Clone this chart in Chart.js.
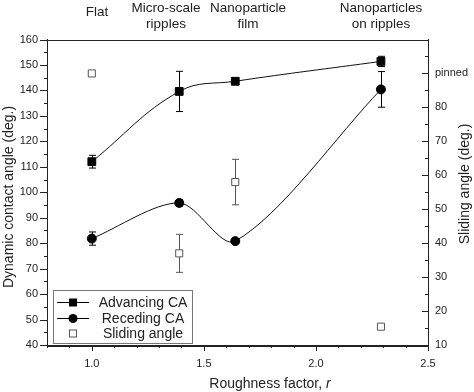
<!DOCTYPE html>
<html>
<head>
<meta charset="utf-8">
<script src="https://cdn.jsdelivr.net/npm/chart.js@4"></script>
<style>
  html, body { margin: 0; padding: 0; background: #fff; }
</style>
</head>
<body>
<canvas id="chart" width="474" height="392"></canvas>
<script>
// values
const roughness = [1.0, 1.39, 1.64, 2.29];
const advancing = [112, 139.6, 143.6, 151.4];
const advancingErr = [2.5, 7.9, 1, 2];
const receding = [81.8, 95.8, 80.8, 140.4];
const recedingErr = [2.6, 1.3, 1, 7];
const sliding = [90, 37, 58, 15.4];       // 90 = "pinned"
const slidingErr = [0, 5.6, 6.7, 0];
const surfaces = [["Flat"], ["Micro-scale", "ripples"], ["Nanoparticle", "film"], ["Nanoparticles", "on ripples"]];
const legendLabels = ["Advancing CA", "Receding CA", "Sliding angle"];

const FONT = "'Liberation Sans', Arial, sans-serif";
const INK = "#222";

const pts = (ys) => roughness.map((x, i) => ({ x: x, y: ys[i] }));

const isMult = (v, s) => Math.abs(v / s - Math.round(v / s)) < 1e-6;

const decor = {
  id: 'decor',
  beforeDatasetsDraw(chart) {
    const ctx = chart.ctx;
    const xs = chart.scales.x;
    const bars = [
      [advancing, advancingErr, chart.scales.y, '#000'],
      [receding, recedingErr, chart.scales.y, '#000'],
      [sliding, slidingErr, chart.scales.y2, '#555']
    ];
    ctx.save();
    ctx.lineWidth = 1;
    bars.forEach(([vals, errs, ys, col]) => {
      ctx.strokeStyle = col;
      vals.forEach((v, i) => {
        if (!errs[i]) return;
        const px = Math.round(xs.getPixelForValue(roughness[i])) + 0.5;
        const top = ys.getPixelForValue(v + errs[i]);
        const bot = ys.getPixelForValue(v - errs[i]);
        ctx.beginPath();
        ctx.moveTo(px, top); ctx.lineTo(px, bot);
        ctx.moveTo(px - 3.5, top); ctx.lineTo(px + 3.5, top);
        ctx.moveTo(px - 3.5, bot); ctx.lineTo(px + 3.5, bot);
        ctx.stroke();
      });
    });
    ctx.restore();
  },
  afterDraw(chart) {
    const ctx = chart.ctx;
    const a = chart.chartArea;
    const xs = chart.scales.x, yl = chart.scales.y, yr = chart.scales.y2;
    ctx.save();
    ctx.strokeStyle = INK;
    ctx.lineWidth = 1;
    // frame
    ctx.strokeRect(Math.round(a.left) + 0.5, Math.round(a.top) + 0.5,
      Math.round(a.right - a.left), Math.round(a.bottom - a.top));
    ctx.beginPath();
    // left ticks, outward
    yl.ticks.forEach(t => {
      const p = Math.round(yl.getPixelForValue(t.value)) + 0.5;
      const len = isMult(t.value, 10) ? 7 : 3;
      ctx.moveTo(a.left, p); ctx.lineTo(a.left - len, p);
    });
    // right ticks, inward
    yr.ticks.forEach(t => {
      const p = Math.round(yr.getPixelForValue(t.value)) + 0.5;
      const len = isMult(t.value, 10) ? 6 : 3;
      ctx.moveTo(a.right, p); ctx.lineTo(a.right - len, p);
    });
    // bottom ticks, outward
    xs.ticks.forEach(t => {
      const p = Math.round(xs.getPixelForValue(t.value)) + 0.5;
      const len = isMult(t.value, 0.5) ? 6 : 3;
      ctx.moveTo(p, a.bottom); ctx.lineTo(p, a.bottom + len);
    });
    ctx.stroke();

    // surface labels above the plot
    ctx.fillStyle = INK;
    ctx.font = '13.5px ' + FONT;
    ctx.textAlign = 'center';
    ctx.textBaseline = 'middle';
    const labelX = [97, 166, 248, 381];
    surfaces.forEach((lines, i) => {
      if (lines.length === 1) {
        ctx.fillText(lines[0], labelX[i], 12);
      } else {
        ctx.fillText(lines[0], labelX[i], 8);
        ctx.fillText(lines[1], labelX[i], 24);
      }
    });

    // axis titles
    ctx.font = '14px ' + FONT;
    ctx.save();
    ctx.translate(9, 197);
    ctx.rotate(-Math.PI / 2);
    ctx.fillText('Dynamic contact angle (deg.)', 0, 0);
    ctx.restore();
    ctx.save();
    ctx.translate(465, 184);
    ctx.rotate(-Math.PI / 2);
    ctx.fillText('Sliding angle (deg.)', 0, 0);
    ctx.restore();
    const t1 = 'Roughness factor, ';
    ctx.font = '14px ' + FONT;
    const w1 = ctx.measureText(t1).width;
    ctx.font = 'italic 14px ' + FONT;
    const w2 = ctx.measureText('r').width;
    const x0 = 270 - (w1 + w2) / 2;
    ctx.textAlign = 'left';
    ctx.font = '14px ' + FONT;
    ctx.fillText(t1, x0, 384);
    ctx.font = 'italic 14px ' + FONT;
    ctx.fillText('r', x0 + w1, 384);

    // legend box
    ctx.strokeStyle = '#777';
    ctx.strokeRect(53.5, 290.5, 139, 53);
    const rows = [302, 318, 333];
    ctx.strokeStyle = '#000';
    ctx.fillStyle = '#000';
    ctx.beginPath();
    ctx.moveTo(57, rows[0] + 0.5); ctx.lineTo(89, rows[0] + 0.5);
    ctx.moveTo(57, rows[1] + 0.5); ctx.lineTo(89, rows[1] + 0.5);
    ctx.stroke();
    ctx.fillRect(69, rows[0] - 3.5, 8, 8);
    ctx.beginPath();
    ctx.arc(73, rows[1] + 0.5, 4.5, 0, Math.PI * 2);
    ctx.fill();
    ctx.fillStyle = '#fff';
    ctx.strokeStyle = '#555';
    ctx.fillRect(69.5, rows[2] - 3, 7, 7);
    ctx.strokeRect(69.5, rows[2] - 3, 7, 7);
    ctx.fillStyle = INK;
    ctx.textAlign = 'center';
    ctx.font = '14px ' + FONT;
    legendLabels.forEach((s, i) => ctx.fillText(s, 143, rows[i] + 1));
    ctx.restore();
  }
};

new Chart(document.getElementById('chart'), {
  type: 'line',
  data: {
    datasets: [
      {
        label: legendLabels[0],
        data: pts(advancing),
        yAxisID: 'y',
        borderColor: '#111',
        borderWidth: 1,
        tension: 0.4,
        pointStyle: 'rect',
        pointRadius: 5.5,
        pointBackgroundColor: '#000',
        pointBorderColor: '#000'
      },
      {
        label: legendLabels[1],
        data: pts(receding),
        yAxisID: 'y',
        borderColor: '#111',
        borderWidth: 1,
        tension: 0.3,
        pointStyle: 'circle',
        pointRadius: 4.5,
        pointBackgroundColor: '#000',
        pointBorderColor: '#000'
      },
      {
        label: legendLabels[2],
        data: pts(sliding),
        yAxisID: 'y2',
        showLine: false,
        pointStyle: 'rect',
        pointRadius: 5,
        pointBorderWidth: 1,
        pointBackgroundColor: '#fff',
        pointBorderColor: '#555'
      }
    ]
  },
  options: {
    responsive: false,
    animation: false,
    events: [],
    layout: { padding: { top: 39.5, left: 0, right: 0, bottom: 0 } },
    scales: {
      x: {
        type: 'linear',
        min: 0.8,
        max: 2.5,
        afterFit: s => { s.height = 47; },
        grid: { drawOnChartArea: false, drawTicks: false },
        border: { color: INK },
        ticks: {
          stepSize: 0.1,
          autoSkip: false,
          maxRotation: 0,
          padding: 12,
          color: INK,
          font: { family: FONT, size: 11 },
          callback: v => isMult(v, 0.5) ? v.toFixed(1) : ''
        }
      },
      y: {
        position: 'left',
        min: 40,
        max: 160,
        afterFit: s => { s.width = 47; },
        grid: { drawOnChartArea: false, drawTicks: false },
        border: { color: INK },
        ticks: {
          stepSize: 5,
          autoSkip: false,
          padding: 9,
          color: INK,
          font: { family: FONT, size: 11 },
          callback: v => isMult(v, 10) ? String(v) : ''
        }
      },
      y2: {
        position: 'right',
        min: 10,
        max: 100,
        afterFit: s => { s.width = 46; },
        grid: { drawOnChartArea: false, drawTicks: false },
        border: { color: INK },
        ticks: {
          stepSize: 5,
          autoSkip: false,
          padding: 7,
          color: INK,
          font: { family: FONT, size: 11 },
          callback: v => v === 90 ? 'pinned' : (isMult(v, 10) && v < 90 ? String(v) : '')
        }
      }
    },
    plugins: {
      legend: { display: false },
      tooltip: { enabled: false }
    }
  },
  plugins: [decor]
});
</script>
</body>
</html>
